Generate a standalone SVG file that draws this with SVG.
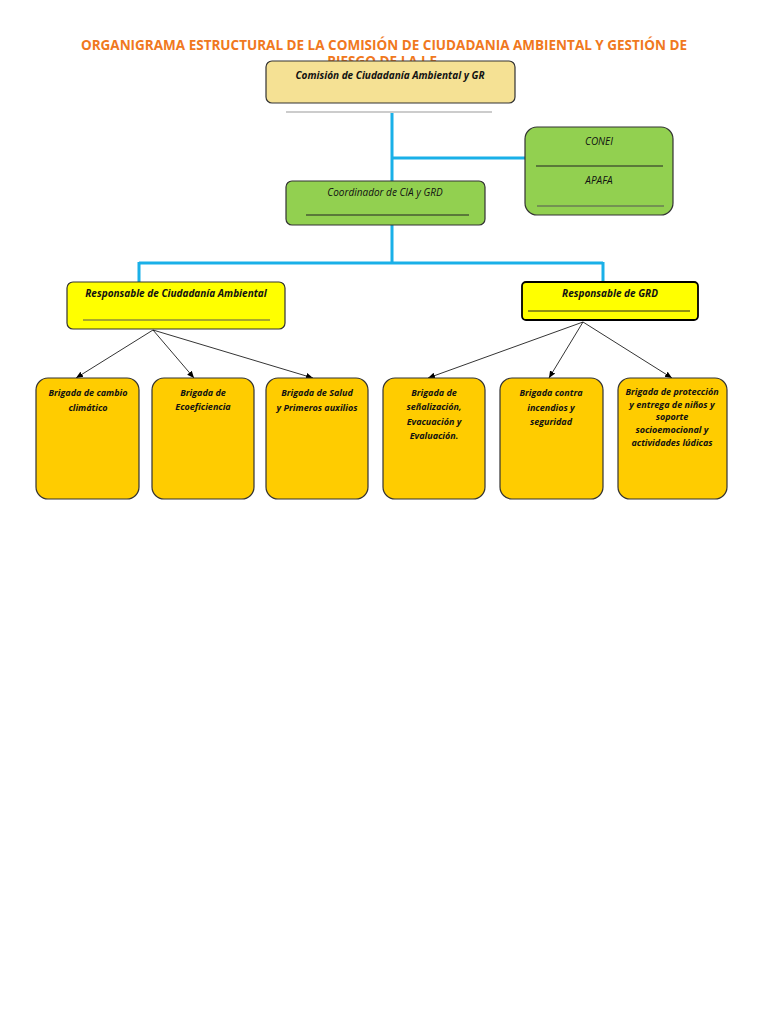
<svg xmlns="http://www.w3.org/2000/svg" width="768" height="1024" viewBox="0 0 768 1024">
<defs>
<marker id="ar" markerWidth="8" markerHeight="8" refX="7" refY="4" orient="auto" markerUnits="userSpaceOnUse"><path d="M0,1 L7,4 L0,7 Z" fill="#000"/></marker>
</defs>
<style>
.t{font-family:"Open Sans","Liberation Sans",Arial,sans-serif;font-weight:bold;fill:#f07820;font-size:13.5px}
.b{stroke:#333;stroke-width:1.2}
.l{font-family:"Open Sans","Liberation Sans",sans-serif;font-style:italic;font-size:10px;fill:#111}
.lb{font-family:"Open Sans","Liberation Sans",sans-serif;font-style:italic;font-weight:bold;font-size:9px;fill:#111}
.u{stroke:#222;stroke-width:1}
.c{stroke:#1ab0e8;stroke-width:3;fill:none}
.a{stroke:#000;stroke-width:0.8;fill:none;marker-end:url(#ar)}
</style>
<rect width="768" height="1024" fill="#fff"/>
<text class="t" x="384" y="50" text-anchor="middle">ORGANIGRAMA ESTRUCTURAL DE LA COMISIÓN DE CIUDADANIA AMBIENTAL Y GESTIÓN DE</text>
<text class="t" x="384" y="66" text-anchor="middle">RIESGO DE LA I.E.</text>
<g id="connectors">
<path class="c" d="M392,113 V262 M392,158 H525 M392,226 V262 M139,263 H603 M139,262 V282 M603,262 V282"/>
<line x1="286" y1="112" x2="492" y2="112" stroke="#999" stroke-width="1"/>
<path class="a" d="M153,330 L76,378"/>
<path class="a" d="M153,330 L194,378"/>
<path class="a" d="M153,330 L313,378"/>
<path class="a" d="M583,322 L428,378"/>
<path class="a" d="M583,322 L549,378"/>
<path class="a" d="M583,322 L672,378"/>
</g>
<g id="comision"><rect class="b" x="266" y="61" width="249" height="42" rx="6" fill="#f5e194"/><text class="l" x="390" y="79" text-anchor="middle" font-weight="bold">Comisión de Ciudadanía Ambiental y GR</text></g>
<g id="conei"><rect class="b" x="525" y="127" width="148" height="88" rx="12" fill="#92d050"/><text class="l" x="599" y="145" text-anchor="middle">CONEI</text><line class="u" x1="536" y1="166" x2="663" y2="166"/><text class="l" x="599" y="184" text-anchor="middle">APAFA</text><line x1="537" y1="206" x2="664" y2="206" stroke="#555"/></g>
<g id="coordinador"><rect class="b" x="286" y="181" width="199" height="44" rx="6" fill="#92d050"/><text class="l" x="385" y="196" text-anchor="middle">Coordinador de CIA y GRD</text><line class="u" x1="306" y1="215" x2="469" y2="215"/></g>
<g id="resp-ca"><rect class="b" x="67" y="282" width="218" height="47" rx="6" fill="#ffff00"/><text class="l" x="176" y="297" text-anchor="middle" font-weight="bold">Responsable de Ciudadanía Ambiental</text><line x1="83" y1="320" x2="270" y2="320" stroke="#555"/></g>
<g id="resp-grd"><rect x="522" y="282" width="176" height="38" rx="4" fill="#ffff00" stroke="#000" stroke-width="1.8"/><text class="l" x="610" y="297" text-anchor="middle" font-weight="bold">Responsable de GRD</text><line class="u" x1="528" y1="311" x2="690" y2="311"/></g>
<g id="b1"><rect class="b" x="36" y="378" width="103" height="121" rx="12" fill="#ffcc00"/><text class="lb" x="88" y="396" text-anchor="middle">Brigada de cambio</text><text class="lb" x="88" y="411" text-anchor="middle">climático</text></g>
<g id="b2"><rect class="b" x="152" y="378" width="102" height="121" rx="12" fill="#ffcc00"/><text class="lb" x="203" y="396" text-anchor="middle">Brigada de</text><text class="lb" x="203" y="410" text-anchor="middle">Ecoeficiencia</text></g>
<g id="b3"><rect class="b" x="266" y="378" width="102" height="121" rx="12" fill="#ffcc00"/><text class="lb" x="317" y="396" text-anchor="middle">Brigada de  Salud</text><text class="lb" x="317" y="411" text-anchor="middle">y Primeros auxilios</text></g>
<g id="b4"><rect class="b" x="383" y="378" width="102" height="121" rx="12" fill="#ffcc00"/><text class="lb" x="434" y="396" text-anchor="middle">Brigada de</text><text class="lb" x="434" y="410" text-anchor="middle">señalización,</text><text class="lb" x="434" y="425" text-anchor="middle">Evacuación y</text><text class="lb" x="434" y="439" text-anchor="middle">Evaluación.</text></g>
<g id="b5"><rect class="b" x="500" y="378" width="103" height="121" rx="12" fill="#ffcc00"/><text class="lb" x="551" y="396" text-anchor="middle">Brigada contra</text><text class="lb" x="551" y="411" text-anchor="middle">incendios y</text><text class="lb" x="551" y="425" text-anchor="middle">seguridad</text></g>
<g id="b6"><rect class="b" x="618" y="378" width="109" height="121" rx="12" fill="#ffcc00"/><text class="lb" x="672" y="395" text-anchor="middle" font-size="8.5">Brigada de protección</text><text class="lb" x="672" y="408" text-anchor="middle" font-size="8.5">y entrega de niños y</text><text class="lb" x="672" y="420" text-anchor="middle" font-size="8.5">soporte</text><text class="lb" x="672" y="433" text-anchor="middle" font-size="8.5">socioemocional y</text><text class="lb" x="672" y="446" text-anchor="middle" font-size="8.5">actividades lúdicas</text></g>
</svg>
